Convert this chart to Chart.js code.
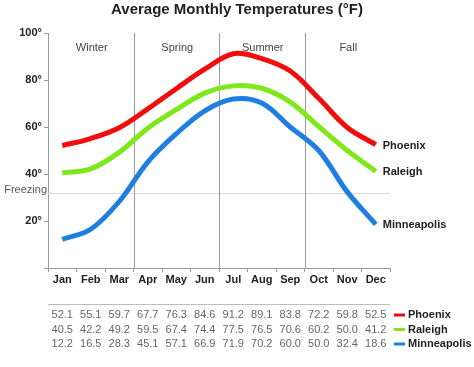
<!DOCTYPE html>
<html>
<head>
<meta charset="utf-8">
<script src="https://cdn.jsdelivr.net/npm/chart.js@4/dist/chart.umd.min.js"></script>
<style>
  html, body { margin: 0; padding: 0; background: #fff; }
  #wrap { width: 474px; height: 367px; }
</style>
</head>
<body>
<div id="wrap"><canvas id="tempChart"></canvas></div>
<script>
// Data
const months = ['Jan', 'Feb', 'Mar', 'Apr', 'May', 'Jun', 'Jul', 'Aug', 'Sep', 'Oct', 'Nov', 'Dec'];
const phoenix = [52.1, 55.1, 59.7, 67.7, 76.3, 84.6, 91.2, 89.1, 83.8, 72.2, 59.8, 52.5];
const raleigh = [40.5, 42.2, 49.2, 59.5, 67.4, 74.4, 77.5, 76.5, 70.6, 60.2, 50.0, 41.2];
const minneapolis = [12.2, 16.5, 28.3, 45.1, 57.1, 66.9, 71.9, 70.2, 60.0, 50.0, 32.4, 18.6];
const cityNames = ['Phoenix', 'Raleigh', 'Minneapolis'];
const cityColors = ['#f20d0d', '#7ee81a', '#1e7fe0'];
const seasons = ['Winter', 'Spring', 'Summer', 'Fall'];
const yTicks = [0, 20, 40, 60, 80, 100];
const freezing = 32;
const chartTitle = 'Average Monthly Temperatures (°F)';

const FONT = 'Liberation Sans, Arial, sans-serif';

// title, season separators, freezing line, labels and the value table
const extras = {
    id: 'extras',
    beforeDatasetsDraw(chart) {
        const c = chart.ctx;
        const xs = chart.scales.x, ys = chart.scales.y;
        const area = chart.chartArea;
        c.save();
        // title, centred on the whole page
        c.font = 'bold 15px ' + FONT;
        c.fillStyle = '#222';
        c.textAlign = 'center';
        c.textBaseline = 'middle';
        c.fillText(chartTitle, chart.width / 2, 10);

        // freezing line
        const fy = Math.round(ys.getPixelForValue(freezing)) + 0.5;
        c.strokeStyle = '#d8d8d8';
        c.lineWidth = 1;
        c.beginPath();
        c.moveTo(area.left, fy);
        c.lineTo(area.right, fy);
        c.stroke();
        c.font = '11px ' + FONT;
        c.fillStyle = '#555';
        c.textAlign = 'right';
        c.textBaseline = 'bottom';
        c.fillText('Freezing', area.left - 1, fy + 2);

        // season boundaries
        const bounds = [area.left];
        [2, 5, 8].forEach(i => {
            bounds.push((xs.getPixelForValue(i) + xs.getPixelForValue(i + 1)) / 2);
        });
        bounds.push(area.right);
        c.strokeStyle = '#9a9a9a';
        for (let i = 1; i < 4; i++) {
            const bx = Math.round(bounds[i]) + 0.5;
            c.beginPath();
            c.moveTo(bx, area.top);
            c.lineTo(bx, area.bottom);
            c.stroke();
        }
        c.fillStyle = '#444';
        c.textAlign = 'center';
        c.textBaseline = 'middle';
        seasons.forEach((s, i) => {
            c.fillText(s, (bounds[i] + bounds[i + 1]) / 2 + 1, area.top + 15);
        });
        c.restore();
    },
    afterDraw(chart) {
        const c = chart.ctx;
        const xs = chart.scales.x;
        const area = chart.chartArea;
        c.save();
        // end-of-line labels
        c.font = 'bold 11px ' + FONT;
        c.fillStyle = '#222';
        c.textAlign = 'left';
        c.textBaseline = 'middle';
        chart.data.datasets.forEach((ds, i) => {
            const pts = chart.getDatasetMeta(i).data;
            const last = pts[pts.length - 1];
            c.fillText(cityNames[i], last.x + 7, last.y + 1);
        });

        // table separator
        const ty = 304;
        c.strokeStyle = '#bdbdbd';
        c.lineWidth = 1;
        c.beginPath();
        c.moveTo(area.left, ty + 0.5);
        c.lineTo(area.right, ty + 0.5);
        c.stroke();

        // value table
        const rows = [phoenix, raleigh, minneapolis];
        rows.forEach((vals, r) => {
            const y = ty + 11 + r * 14.5;
            c.font = '11px ' + FONT;
            c.fillStyle = '#666';
            c.textAlign = 'center';
            vals.forEach((v, i) => {
                c.fillText(v.toFixed(1), xs.getPixelForValue(i), y);
            });
            c.fillStyle = cityColors[r];
            c.fillRect(area.right + 4, y - 1.5, 11, 3);
            c.font = 'bold 11px ' + FONT;
            c.fillStyle = '#222';
            c.textAlign = 'left';
            c.fillText(cityNames[r], area.right + 18, y);
        });
        c.restore();
    }
};

const ctx = document.getElementById('tempChart').getContext('2d');
new Chart(ctx, {
    type: 'line',
    data: {
        labels: months,
        datasets: [phoenix, raleigh, minneapolis].map((vals, i) => ({
            label: cityNames[i],
            data: vals,
            borderColor: cityColors[i],
            backgroundColor: cityColors[i],
            borderWidth: 5,
            tension: 0.35,
            pointRadius: 0,
            fill: false
        }))
    },
    options: {
        responsive: true,
        maintainAspectRatio: false,
        animation: false,
        layout: { padding: { left: 0, right: 84, top: 33, bottom: 0 } },
        plugins: {
            legend: { display: false },
            tooltip: { enabled: false },
            title: { display: false }
        },
        scales: {
            x: {
                offset: true,
                grid: { display: true, offset: true, drawOnChartArea: false, tickLength: 4, color: '#9a9a9a' },
                border: { display: true, color: '#9a9a9a' },
                ticks: { color: '#222', font: { family: FONT, size: 11, weight: 'bold' }, padding: 1, maxRotation: 0 },
                afterFit(scale) { scale.height = 99; }
            },
            y: {
                min: 0,
                max: 100,
                afterBuildTicks(scale) { scale.ticks = yTicks.map(v => ({ value: v })); },
                grid: { display: true, drawOnChartArea: false, tickLength: 4, color: '#9a9a9a' },
                border: { display: true, color: '#9a9a9a' },
                ticks: {
                    color: '#222',
                    font: { family: FONT, size: 11, weight: 'bold' },
                    padding: 2,
                    callback: v => v === 0 ? '' : v + '°'
                },
                afterFit(scale) { scale.width = 48; }
            }
        }
    },
    plugins: [extras]
});
</script>
</body>
</html>
